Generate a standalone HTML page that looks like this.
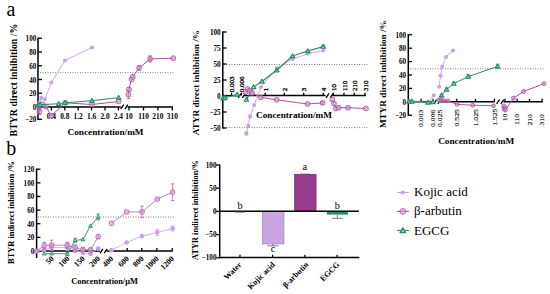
<!DOCTYPE html>
<html><head><meta charset="utf-8"><style>
html,body{margin:0;padding:0;background:#fff;overflow:hidden;}
svg{display:block;}
text{font-family:"Liberation Serif",serif;}
</style></head><body>
<svg width="550" height="294" viewBox="0 0 550 294">
<rect width="550" height="294" fill="#fff"/>
<text x="6.6" y="16.3" font-size="20" text-anchor="start" font-weight="normal" fill="#000">a</text>
<text x="6.3" y="154.5" font-size="20" text-anchor="start" font-weight="normal" fill="#000">b</text>
<line x1="38.0" y1="37.65" x2="38.0" y2="119.9" stroke="#000" stroke-width="1.5" />
<line x1="38.0" y1="38.25" x2="42.0" y2="38.25" stroke="#000" stroke-width="1.3" />
<text x="36.4" y="41.25" font-size="7.2" text-anchor="end" font-weight="bold" fill="#000">100</text>
<line x1="38.0" y1="52.0" x2="42.0" y2="52.0" stroke="#000" stroke-width="1.3" />
<text x="36.4" y="55.0" font-size="7.2" text-anchor="end" font-weight="bold" fill="#000">80</text>
<line x1="38.0" y1="65.75" x2="42.0" y2="65.75" stroke="#000" stroke-width="1.3" />
<text x="36.4" y="68.75" font-size="7.2" text-anchor="end" font-weight="bold" fill="#000">60</text>
<line x1="38.0" y1="79.5" x2="42.0" y2="79.5" stroke="#000" stroke-width="1.3" />
<text x="36.4" y="82.5" font-size="7.2" text-anchor="end" font-weight="bold" fill="#000">40</text>
<line x1="38.0" y1="93.25" x2="42.0" y2="93.25" stroke="#000" stroke-width="1.3" />
<text x="36.4" y="96.25" font-size="7.2" text-anchor="end" font-weight="bold" fill="#000">20</text>
<line x1="38.0" y1="107.0" x2="42.0" y2="107.0" stroke="#000" stroke-width="1.3" />
<text x="36.4" y="110.0" font-size="7.2" text-anchor="end" font-weight="bold" fill="#000">0</text>
<line x1="38.0" y1="119.3" x2="42.0" y2="119.3" stroke="#000" stroke-width="1.3" />
<text x="36.4" y="122.3" font-size="7.2" text-anchor="end" font-weight="bold" fill="#000">−20</text>
<line x1="38.0" y1="106.9" x2="120.8" y2="106.9" stroke="#000" stroke-width="1.5" />
<line x1="51.4" y1="106.9" x2="51.4" y2="110.5" stroke="#000" stroke-width="1.3" />
<text x="51.4" y="119.4" font-size="7.4" text-anchor="middle" font-weight="bold" fill="#000">0.4</text>
<line x1="64.8" y1="106.9" x2="64.8" y2="110.5" stroke="#000" stroke-width="1.3" />
<text x="64.8" y="119.4" font-size="7.4" text-anchor="middle" font-weight="bold" fill="#000">0.8</text>
<line x1="78.19999999999999" y1="106.9" x2="78.19999999999999" y2="110.5" stroke="#000" stroke-width="1.3" />
<text x="78.19999999999999" y="119.4" font-size="7.4" text-anchor="middle" font-weight="bold" fill="#000">1.2</text>
<line x1="91.6" y1="106.9" x2="91.6" y2="110.5" stroke="#000" stroke-width="1.3" />
<text x="91.6" y="119.4" font-size="7.4" text-anchor="middle" font-weight="bold" fill="#000">1.6</text>
<line x1="105.0" y1="106.9" x2="105.0" y2="110.5" stroke="#000" stroke-width="1.3" />
<text x="105.0" y="119.4" font-size="7.4" text-anchor="middle" font-weight="bold" fill="#000">2.0</text>
<line x1="118.39999999999999" y1="106.9" x2="118.39999999999999" y2="110.5" stroke="#000" stroke-width="1.3" />
<text x="118.39999999999999" y="119.4" font-size="7.4" text-anchor="middle" font-weight="bold" fill="#000">2.4</text>
<line x1="120.7" y1="109.10000000000001" x2="123.7" y2="104.7" stroke="#000" stroke-width="1.3"/>
<line x1="124.89999999999999" y1="109.10000000000001" x2="127.89999999999999" y2="104.7" stroke="#000" stroke-width="1.3"/>
<line x1="127.6" y1="106.9" x2="173" y2="106.9" stroke="#000" stroke-width="1.5" />
<line x1="129" y1="106.9" x2="129" y2="110.5" stroke="#000" stroke-width="1.3" />
<text x="129" y="119.4" font-size="7.4" text-anchor="middle" font-weight="bold" fill="#000">10</text>
<line x1="143.5" y1="106.9" x2="143.5" y2="110.5" stroke="#000" stroke-width="1.3" />
<text x="143.5" y="119.4" font-size="7.4" text-anchor="middle" font-weight="bold" fill="#000">110</text>
<line x1="157.9" y1="106.9" x2="157.9" y2="110.5" stroke="#000" stroke-width="1.3" />
<text x="157.9" y="119.4" font-size="7.4" text-anchor="middle" font-weight="bold" fill="#000">210</text>
<line x1="172.3" y1="106.9" x2="172.3" y2="110.5" stroke="#000" stroke-width="1.3" />
<text x="172.3" y="119.4" font-size="7.4" text-anchor="middle" font-weight="bold" fill="#000">310</text>
<line x1="40" y1="72.7" x2="174" y2="72.7" stroke="#444" stroke-width="0.8" stroke-dasharray="0.9 1.6"/>
<text x="16.6" y="80" font-size="9.85" text-anchor="middle" font-weight="bold" fill="#000" transform="rotate(-90 16.6 80)">BTYR direct inhibition /%</text>
<text x="105.6" y="135.2" font-size="9.25" text-anchor="middle" font-weight="bold" fill="#000">Concentration/mM</text>
<polyline points="38.3,105.5 39.6,102.5 41.3,97.7 44.8,99.2 51.3,82.6 64.9,60.6 92.1,47.4" fill="none" stroke="#cfa8ea" stroke-width="1.0" stroke-linejoin="round"/>
<line x1="41.3" y1="96.2" x2="41.3" y2="99.2" stroke="#c9a0e4" stroke-width="0.8" />
<line x1="39.5" y1="96.2" x2="43.099999999999994" y2="96.2" stroke="#c9a0e4" stroke-width="0.8" />
<line x1="39.5" y1="99.2" x2="43.099999999999994" y2="99.2" stroke="#c9a0e4" stroke-width="0.8" />
<circle cx="38.3" cy="105.5" r="2.0" fill="#c9a0e4"/>
<circle cx="39.6" cy="102.5" r="2.0" fill="#c9a0e4"/>
<circle cx="41.3" cy="97.7" r="2.0" fill="#c9a0e4"/>
<circle cx="44.8" cy="99.2" r="2.0" fill="#c9a0e4"/>
<circle cx="51.3" cy="82.6" r="2.0" fill="#c9a0e4"/>
<circle cx="64.9" cy="60.6" r="2.0" fill="#c9a0e4"/>
<circle cx="92.1" cy="47.4" r="2.0" fill="#c9a0e4"/>
<polyline points="38.3,106.5 39.4,111.5 42.7,104.4 46,106.5 51.3,115.7 65.2,102.8 91.9,104.5 118.6,101.5" fill="none" stroke="#a9519f" stroke-width="1.0" stroke-linejoin="round"/>
<line x1="39.4" y1="108.5" x2="39.4" y2="114.5" stroke="#a9519f" stroke-width="0.8" />
<line x1="37.6" y1="108.5" x2="41.199999999999996" y2="108.5" stroke="#a9519f" stroke-width="0.8" />
<line x1="37.6" y1="114.5" x2="41.199999999999996" y2="114.5" stroke="#a9519f" stroke-width="0.8" />
<rect x="36.099999999999994" y="104.3" width="4.4" height="4.4" rx="1.32" fill="#f0dcef" fill-opacity="0.45" stroke="#a9519f" stroke-width="0.9"/><circle cx="38.3" cy="106.5" r="1.2100000000000002" fill="none" stroke="#a9519f" stroke-width="0.5"/>
<rect x="37.199999999999996" y="109.3" width="4.4" height="4.4" rx="1.32" fill="#f0dcef" fill-opacity="0.45" stroke="#a9519f" stroke-width="0.9"/><circle cx="39.4" cy="111.5" r="1.2100000000000002" fill="none" stroke="#a9519f" stroke-width="0.5"/>
<rect x="40.5" y="102.2" width="4.4" height="4.4" rx="1.32" fill="#f0dcef" fill-opacity="0.45" stroke="#a9519f" stroke-width="0.9"/><circle cx="42.7" cy="104.4" r="1.2100000000000002" fill="none" stroke="#a9519f" stroke-width="0.5"/>
<rect x="43.8" y="104.3" width="4.4" height="4.4" rx="1.32" fill="#f0dcef" fill-opacity="0.45" stroke="#a9519f" stroke-width="0.9"/><circle cx="46" cy="106.5" r="1.2100000000000002" fill="none" stroke="#a9519f" stroke-width="0.5"/>
<rect x="49.099999999999994" y="113.5" width="4.4" height="4.4" rx="1.32" fill="#f0dcef" fill-opacity="0.45" stroke="#a9519f" stroke-width="0.9"/><circle cx="51.3" cy="115.7" r="1.2100000000000002" fill="none" stroke="#a9519f" stroke-width="0.5"/>
<rect x="63.0" y="100.6" width="4.4" height="4.4" rx="1.32" fill="#f0dcef" fill-opacity="0.45" stroke="#a9519f" stroke-width="0.9"/><circle cx="65.2" cy="102.8" r="1.2100000000000002" fill="none" stroke="#a9519f" stroke-width="0.5"/>
<rect x="89.7" y="102.3" width="4.4" height="4.4" rx="1.32" fill="#f0dcef" fill-opacity="0.45" stroke="#a9519f" stroke-width="0.9"/><circle cx="91.9" cy="104.5" r="1.2100000000000002" fill="none" stroke="#a9519f" stroke-width="0.5"/>
<rect x="116.39999999999999" y="99.3" width="4.4" height="4.4" rx="1.32" fill="#f0dcef" fill-opacity="0.45" stroke="#a9519f" stroke-width="0.9"/><circle cx="118.6" cy="101.5" r="1.2100000000000002" fill="none" stroke="#a9519f" stroke-width="0.5"/>
<polyline points="38.3,105 40,104.8 58.8,103.7 65.2,102.8 91.9,100.7 118.6,97.7" fill="none" stroke="#2c8c68" stroke-width="1.0" stroke-linejoin="round"/>
<polygon points="38.3,102.8 36.099999999999994,106.65 40.5,106.65" fill="#9fd0bd" stroke="#2c8c68" stroke-width="1.2" stroke-linejoin="round"/>
<polygon points="40,102.6 37.8,106.45 42.2,106.45" fill="#9fd0bd" stroke="#2c8c68" stroke-width="1.2" stroke-linejoin="round"/>
<polygon points="58.8,101.5 56.599999999999994,105.35000000000001 61.0,105.35000000000001" fill="#9fd0bd" stroke="#2c8c68" stroke-width="1.2" stroke-linejoin="round"/>
<polygon points="65.2,100.6 63.0,104.45 67.4,104.45" fill="#9fd0bd" stroke="#2c8c68" stroke-width="1.2" stroke-linejoin="round"/>
<polygon points="91.9,98.5 89.7,102.35000000000001 94.10000000000001,102.35000000000001" fill="#9fd0bd" stroke="#2c8c68" stroke-width="1.2" stroke-linejoin="round"/>
<polygon points="118.6,95.5 116.39999999999999,99.35000000000001 120.8,99.35000000000001" fill="#9fd0bd" stroke="#2c8c68" stroke-width="1.2" stroke-linejoin="round"/>
<polyline points="128.4,94.6 128.9,89.5 131.5,79.3 132.8,76.8 139.1,67.9 150.1,58.9 173.3,58.2" fill="none" stroke="#a9519f" stroke-width="1.0" stroke-linejoin="round"/>
<line x1="128.4" y1="90.6" x2="128.4" y2="98.6" stroke="#a9519f" stroke-width="0.8" />
<line x1="126.60000000000001" y1="90.6" x2="130.20000000000002" y2="90.6" stroke="#a9519f" stroke-width="0.8" />
<line x1="126.60000000000001" y1="98.6" x2="130.20000000000002" y2="98.6" stroke="#a9519f" stroke-width="0.8" />
<line x1="139.1" y1="65.9" x2="139.1" y2="69.9" stroke="#a9519f" stroke-width="0.8" />
<line x1="137.29999999999998" y1="65.9" x2="140.9" y2="65.9" stroke="#a9519f" stroke-width="0.8" />
<line x1="137.29999999999998" y1="69.9" x2="140.9" y2="69.9" stroke="#a9519f" stroke-width="0.8" />
<line x1="150.1" y1="55.9" x2="150.1" y2="61.9" stroke="#a9519f" stroke-width="0.8" />
<line x1="148.29999999999998" y1="55.9" x2="151.9" y2="55.9" stroke="#a9519f" stroke-width="0.8" />
<line x1="148.29999999999998" y1="61.9" x2="151.9" y2="61.9" stroke="#a9519f" stroke-width="0.8" />
<rect x="126.2" y="92.39999999999999" width="4.4" height="4.4" rx="1.32" fill="#f0dcef" fill-opacity="0.45" stroke="#a9519f" stroke-width="0.9"/><circle cx="128.4" cy="94.6" r="1.2100000000000002" fill="none" stroke="#a9519f" stroke-width="0.5"/>
<rect x="126.7" y="87.3" width="4.4" height="4.4" rx="1.32" fill="#f0dcef" fill-opacity="0.45" stroke="#a9519f" stroke-width="0.9"/><circle cx="128.9" cy="89.5" r="1.2100000000000002" fill="none" stroke="#a9519f" stroke-width="0.5"/>
<rect x="129.3" y="77.1" width="4.4" height="4.4" rx="1.32" fill="#f0dcef" fill-opacity="0.45" stroke="#a9519f" stroke-width="0.9"/><circle cx="131.5" cy="79.3" r="1.2100000000000002" fill="none" stroke="#a9519f" stroke-width="0.5"/>
<rect x="130.60000000000002" y="74.6" width="4.4" height="4.4" rx="1.32" fill="#f0dcef" fill-opacity="0.45" stroke="#a9519f" stroke-width="0.9"/><circle cx="132.8" cy="76.8" r="1.2100000000000002" fill="none" stroke="#a9519f" stroke-width="0.5"/>
<rect x="136.9" y="65.7" width="4.4" height="4.4" rx="1.32" fill="#f0dcef" fill-opacity="0.45" stroke="#a9519f" stroke-width="0.9"/><circle cx="139.1" cy="67.9" r="1.2100000000000002" fill="none" stroke="#a9519f" stroke-width="0.5"/>
<rect x="147.9" y="56.699999999999996" width="4.4" height="4.4" rx="1.32" fill="#f0dcef" fill-opacity="0.45" stroke="#a9519f" stroke-width="0.9"/><circle cx="150.1" cy="58.9" r="1.2100000000000002" fill="none" stroke="#a9519f" stroke-width="0.5"/>
<rect x="171.10000000000002" y="56.0" width="4.4" height="4.4" rx="1.32" fill="#f0dcef" fill-opacity="0.45" stroke="#a9519f" stroke-width="0.9"/><circle cx="173.3" cy="58.2" r="1.2100000000000002" fill="none" stroke="#a9519f" stroke-width="0.5"/>
<line x1="222.8" y1="31.4" x2="222.8" y2="128.6" stroke="#000" stroke-width="1.5" />
<line x1="222.8" y1="32.0" x2="226.60000000000002" y2="32.0" stroke="#000" stroke-width="1.3" />
<text x="220.7" y="34.8" font-size="7.2" text-anchor="end" font-weight="bold" fill="#000">100</text>
<line x1="222.8" y1="48.0" x2="226.60000000000002" y2="48.0" stroke="#000" stroke-width="1.3" />
<text x="220.7" y="50.8" font-size="7.2" text-anchor="end" font-weight="bold" fill="#000">75</text>
<line x1="222.8" y1="64.0" x2="226.60000000000002" y2="64.0" stroke="#000" stroke-width="1.3" />
<text x="220.7" y="66.8" font-size="7.2" text-anchor="end" font-weight="bold" fill="#000">50</text>
<line x1="222.8" y1="80.0" x2="226.60000000000002" y2="80.0" stroke="#000" stroke-width="1.3" />
<text x="220.7" y="82.8" font-size="7.2" text-anchor="end" font-weight="bold" fill="#000">25</text>
<line x1="222.8" y1="96.0" x2="226.60000000000002" y2="96.0" stroke="#000" stroke-width="1.3" />
<text x="220.7" y="98.8" font-size="7.2" text-anchor="end" font-weight="bold" fill="#000">0</text>
<line x1="222.8" y1="112.0" x2="226.60000000000002" y2="112.0" stroke="#000" stroke-width="1.3" />
<text x="220.7" y="114.8" font-size="7.2" text-anchor="end" font-weight="bold" fill="#000">−25</text>
<line x1="222.8" y1="128.0" x2="226.60000000000002" y2="128.0" stroke="#000" stroke-width="1.3" />
<text x="220.7" y="130.8" font-size="7.2" text-anchor="end" font-weight="bold" fill="#000">−50</text>
<line x1="222.8" y1="95.6" x2="238.6" y2="95.6" stroke="#000" stroke-width="1.5" />
<line x1="238.20000000000002" y1="97.8" x2="241.20000000000002" y2="93.39999999999999" stroke="#000" stroke-width="1.3"/>
<line x1="242.4" y1="97.8" x2="245.4" y2="93.39999999999999" stroke="#000" stroke-width="1.3"/>
<line x1="244.2" y1="95.6" x2="325.5" y2="95.6" stroke="#000" stroke-width="1.5" />
<line x1="326.0" y1="97.8" x2="329.0" y2="93.39999999999999" stroke="#000" stroke-width="1.3"/>
<line x1="330.20000000000005" y1="97.8" x2="333.20000000000005" y2="93.39999999999999" stroke="#000" stroke-width="1.3"/>
<line x1="332.2" y1="95.6" x2="366" y2="95.6" stroke="#000" stroke-width="1.5" />
<line x1="231.6" y1="95.6" x2="231.6" y2="92.8" stroke="#000" stroke-width="1.1" />
<text x="234.1" y="92.2" font-size="7.0" text-anchor="start" font-weight="normal" fill="#000" transform="rotate(-90 234.1 92.2)" stroke="#000" stroke-width="0.3">0.003</text>
<line x1="241.5" y1="95.6" x2="241.5" y2="92.8" stroke="#000" stroke-width="1.1" />
<text x="244.0" y="92.2" font-size="7.0" text-anchor="start" font-weight="normal" fill="#000" transform="rotate(-90 244.0 92.2)" stroke="#000" stroke-width="0.3">0.006</text>
<line x1="265.2" y1="95.6" x2="265.2" y2="92.8" stroke="#000" stroke-width="1.3" />
<text x="267.7" y="91.2" font-size="7.0" text-anchor="start" font-weight="normal" fill="#000" transform="rotate(-90 267.7 91.2)" stroke="#000" stroke-width="0.3">1</text>
<line x1="284.3" y1="95.6" x2="284.3" y2="92.8" stroke="#000" stroke-width="1.3" />
<text x="286.8" y="91.2" font-size="7.0" text-anchor="start" font-weight="normal" fill="#000" transform="rotate(-90 286.8 91.2)" stroke="#000" stroke-width="0.3">2</text>
<line x1="303.7" y1="95.6" x2="303.7" y2="92.8" stroke="#000" stroke-width="1.3" />
<text x="306.2" y="91.2" font-size="7.0" text-anchor="start" font-weight="normal" fill="#000" transform="rotate(-90 306.2 91.2)" stroke="#000" stroke-width="0.3">3</text>
<line x1="323.2" y1="95.6" x2="323.2" y2="92.8" stroke="#000" stroke-width="1.3" />
<text x="325.7" y="91.2" font-size="7.0" text-anchor="start" font-weight="normal" fill="#000" transform="rotate(-90 325.7 91.2)" stroke="#000" stroke-width="0.3">4</text>
<line x1="333.3" y1="95.6" x2="333.3" y2="92.8" stroke="#000" stroke-width="1.3" />
<text x="336.3" y="91.0" font-size="6.9" text-anchor="start" font-weight="normal" fill="#000" transform="rotate(-90 336.3 91.0)" stroke="#000" stroke-width="0.3">10</text>
<line x1="344" y1="95.6" x2="344" y2="92.8" stroke="#000" stroke-width="1.3" />
<text x="347.0" y="91.0" font-size="6.9" text-anchor="start" font-weight="normal" fill="#000" transform="rotate(-90 347.0 91.0)" stroke="#000" stroke-width="0.3">110</text>
<line x1="354.2" y1="95.6" x2="354.2" y2="92.8" stroke="#000" stroke-width="1.3" />
<text x="357.2" y="91.0" font-size="6.9" text-anchor="start" font-weight="normal" fill="#000" transform="rotate(-90 357.2 91.0)" stroke="#000" stroke-width="0.3">210</text>
<line x1="364.9" y1="95.6" x2="364.9" y2="92.8" stroke="#000" stroke-width="1.3" />
<text x="367.9" y="91.0" font-size="6.9" text-anchor="start" font-weight="normal" fill="#000" transform="rotate(-90 367.9 91.0)" stroke="#000" stroke-width="0.3">310</text>
<line x1="224" y1="64.5" x2="368" y2="64.5" stroke="#444" stroke-width="0.8" stroke-dasharray="0.9 1.6"/>
<line x1="224" y1="127.6" x2="368" y2="127.6" stroke="#444" stroke-width="0.8" stroke-dasharray="0.9 1.6"/>
<text x="199.5" y="82.6" font-size="9.2" text-anchor="middle" font-weight="bold" fill="#000" transform="rotate(-90 199.5 82.6)">ATYR direct inhibition /%</text>
<text x="294" y="118.4" font-size="9.25" text-anchor="middle" font-weight="bold" fill="#000">Concentration/mM</text>
<polyline points="223,98.2 225,97.8 237.2,94.6" fill="none" stroke="#2c8c68" stroke-width="1.0" stroke-linejoin="round"/>
<polygon points="223,96.0 220.8,99.85000000000001 225.2,99.85000000000001" fill="#9fd0bd" stroke="#2c8c68" stroke-width="1.2" stroke-linejoin="round"/>
<polygon points="225,95.6 222.8,99.45 227.2,99.45" fill="#9fd0bd" stroke="#2c8c68" stroke-width="1.2" stroke-linejoin="round"/>
<polygon points="237.2,92.39999999999999 235.0,96.25 239.39999999999998,96.25" fill="#9fd0bd" stroke="#2c8c68" stroke-width="1.2" stroke-linejoin="round"/>
<polyline points="246.4,133.4 248.3,126 250,116.4 254.2,105 261,87 276.7,68.3 292.5,59.1 307.8,53.6 323.3,50.6" fill="none" stroke="#cfa8ea" stroke-width="1.0" stroke-linejoin="round"/>
<line x1="246.4" y1="131.9" x2="246.4" y2="134.9" stroke="#c9a0e4" stroke-width="0.8" />
<line x1="244.6" y1="131.9" x2="248.20000000000002" y2="131.9" stroke="#c9a0e4" stroke-width="0.8" />
<line x1="244.6" y1="134.9" x2="248.20000000000002" y2="134.9" stroke="#c9a0e4" stroke-width="0.8" />
<line x1="248.3" y1="124.5" x2="248.3" y2="127.5" stroke="#c9a0e4" stroke-width="0.8" />
<line x1="246.5" y1="124.5" x2="250.10000000000002" y2="124.5" stroke="#c9a0e4" stroke-width="0.8" />
<line x1="246.5" y1="127.5" x2="250.10000000000002" y2="127.5" stroke="#c9a0e4" stroke-width="0.8" />
<line x1="250" y1="114.9" x2="250" y2="117.9" stroke="#c9a0e4" stroke-width="0.8" />
<line x1="248.2" y1="114.9" x2="251.8" y2="114.9" stroke="#c9a0e4" stroke-width="0.8" />
<line x1="248.2" y1="117.9" x2="251.8" y2="117.9" stroke="#c9a0e4" stroke-width="0.8" />
<circle cx="246.4" cy="133.4" r="2.0" fill="#c9a0e4"/>
<circle cx="248.3" cy="126" r="2.0" fill="#c9a0e4"/>
<circle cx="250" cy="116.4" r="2.0" fill="#c9a0e4"/>
<circle cx="254.2" cy="105" r="2.0" fill="#c9a0e4"/>
<circle cx="261" cy="87" r="2.0" fill="#c9a0e4"/>
<circle cx="276.7" cy="68.3" r="2.0" fill="#c9a0e4"/>
<circle cx="292.5" cy="59.1" r="2.0" fill="#c9a0e4"/>
<circle cx="307.8" cy="53.6" r="2.0" fill="#c9a0e4"/>
<circle cx="323.3" cy="50.6" r="2.0" fill="#c9a0e4"/>
<polyline points="246.4,99.6 253.6,86.9 261.9,81.4 276.7,70.2 292.5,56.0 307.8,51.0 323.3,46.6" fill="none" stroke="#2c8c68" stroke-width="1.2" stroke-linejoin="round"/>
<line x1="323.3" y1="45.1" x2="323.3" y2="48.1" stroke="#2c8c68" stroke-width="0.8" />
<line x1="321.5" y1="45.1" x2="325.1" y2="45.1" stroke="#2c8c68" stroke-width="0.8" />
<line x1="321.5" y1="48.1" x2="325.1" y2="48.1" stroke="#2c8c68" stroke-width="0.8" />
<polygon points="246.4,97.39999999999999 244.20000000000002,101.25 248.6,101.25" fill="#9fd0bd" stroke="#2c8c68" stroke-width="1.2" stroke-linejoin="round"/>
<polygon points="253.6,84.7 251.4,88.55000000000001 255.79999999999998,88.55000000000001" fill="#9fd0bd" stroke="#2c8c68" stroke-width="1.2" stroke-linejoin="round"/>
<polygon points="261.9,79.2 259.7,83.05000000000001 264.09999999999997,83.05000000000001" fill="#9fd0bd" stroke="#2c8c68" stroke-width="1.2" stroke-linejoin="round"/>
<polygon points="276.7,68.0 274.5,71.85000000000001 278.9,71.85000000000001" fill="#9fd0bd" stroke="#2c8c68" stroke-width="1.2" stroke-linejoin="round"/>
<polygon points="292.5,53.8 290.3,57.65 294.7,57.65" fill="#9fd0bd" stroke="#2c8c68" stroke-width="1.2" stroke-linejoin="round"/>
<polygon points="307.8,48.8 305.6,52.65 310.0,52.65" fill="#9fd0bd" stroke="#2c8c68" stroke-width="1.2" stroke-linejoin="round"/>
<polygon points="323.3,44.4 321.1,48.25 325.5,48.25" fill="#9fd0bd" stroke="#2c8c68" stroke-width="1.2" stroke-linejoin="round"/>
<polyline points="245.5,92 247.5,89 250,90.5 252,93 260.7,97.4 276.7,99.8 307.6,104 322.6,102.9" fill="none" stroke="#a9519f" stroke-width="1.0" stroke-linejoin="round"/>
<line x1="322.6" y1="101.4" x2="322.6" y2="104.4" stroke="#a9519f" stroke-width="0.8" />
<line x1="320.8" y1="101.4" x2="324.40000000000003" y2="101.4" stroke="#a9519f" stroke-width="0.8" />
<line x1="320.8" y1="104.4" x2="324.40000000000003" y2="104.4" stroke="#a9519f" stroke-width="0.8" />
<rect x="243.3" y="89.8" width="4.4" height="4.4" rx="1.32" fill="#f0dcef" fill-opacity="0.45" stroke="#a9519f" stroke-width="0.9"/><circle cx="245.5" cy="92" r="1.2100000000000002" fill="none" stroke="#a9519f" stroke-width="0.5"/>
<rect x="245.3" y="86.8" width="4.4" height="4.4" rx="1.32" fill="#f0dcef" fill-opacity="0.45" stroke="#a9519f" stroke-width="0.9"/><circle cx="247.5" cy="89" r="1.2100000000000002" fill="none" stroke="#a9519f" stroke-width="0.5"/>
<rect x="247.8" y="88.3" width="4.4" height="4.4" rx="1.32" fill="#f0dcef" fill-opacity="0.45" stroke="#a9519f" stroke-width="0.9"/><circle cx="250" cy="90.5" r="1.2100000000000002" fill="none" stroke="#a9519f" stroke-width="0.5"/>
<rect x="249.8" y="90.8" width="4.4" height="4.4" rx="1.32" fill="#f0dcef" fill-opacity="0.45" stroke="#a9519f" stroke-width="0.9"/><circle cx="252" cy="93" r="1.2100000000000002" fill="none" stroke="#a9519f" stroke-width="0.5"/>
<rect x="258.5" y="95.2" width="4.4" height="4.4" rx="1.32" fill="#f0dcef" fill-opacity="0.45" stroke="#a9519f" stroke-width="0.9"/><circle cx="260.7" cy="97.4" r="1.2100000000000002" fill="none" stroke="#a9519f" stroke-width="0.5"/>
<rect x="274.5" y="97.6" width="4.4" height="4.4" rx="1.32" fill="#f0dcef" fill-opacity="0.45" stroke="#a9519f" stroke-width="0.9"/><circle cx="276.7" cy="99.8" r="1.2100000000000002" fill="none" stroke="#a9519f" stroke-width="0.5"/>
<rect x="305.40000000000003" y="101.8" width="4.4" height="4.4" rx="1.32" fill="#f0dcef" fill-opacity="0.45" stroke="#a9519f" stroke-width="0.9"/><circle cx="307.6" cy="104" r="1.2100000000000002" fill="none" stroke="#a9519f" stroke-width="0.5"/>
<rect x="320.40000000000003" y="100.7" width="4.4" height="4.4" rx="1.32" fill="#f0dcef" fill-opacity="0.45" stroke="#a9519f" stroke-width="0.9"/><circle cx="322.6" cy="102.9" r="1.2100000000000002" fill="none" stroke="#a9519f" stroke-width="0.5"/>
<polyline points="332.3,99.5 334,103.6 335.9,108.5 338.6,107.7 348,107.7 365.9,108.5" fill="none" stroke="#a9519f" stroke-width="1.0" stroke-linejoin="round"/>
<rect x="330.1" y="97.3" width="4.4" height="4.4" rx="1.32" fill="#f0dcef" fill-opacity="0.45" stroke="#a9519f" stroke-width="0.9"/><circle cx="332.3" cy="99.5" r="1.2100000000000002" fill="none" stroke="#a9519f" stroke-width="0.5"/>
<rect x="331.8" y="101.39999999999999" width="4.4" height="4.4" rx="1.32" fill="#f0dcef" fill-opacity="0.45" stroke="#a9519f" stroke-width="0.9"/><circle cx="334" cy="103.6" r="1.2100000000000002" fill="none" stroke="#a9519f" stroke-width="0.5"/>
<rect x="333.7" y="106.3" width="4.4" height="4.4" rx="1.32" fill="#f0dcef" fill-opacity="0.45" stroke="#a9519f" stroke-width="0.9"/><circle cx="335.9" cy="108.5" r="1.2100000000000002" fill="none" stroke="#a9519f" stroke-width="0.5"/>
<rect x="336.40000000000003" y="105.5" width="4.4" height="4.4" rx="1.32" fill="#f0dcef" fill-opacity="0.45" stroke="#a9519f" stroke-width="0.9"/><circle cx="338.6" cy="107.7" r="1.2100000000000002" fill="none" stroke="#a9519f" stroke-width="0.5"/>
<rect x="345.8" y="105.5" width="4.4" height="4.4" rx="1.32" fill="#f0dcef" fill-opacity="0.45" stroke="#a9519f" stroke-width="0.9"/><circle cx="348" cy="107.7" r="1.2100000000000002" fill="none" stroke="#a9519f" stroke-width="0.5"/>
<rect x="363.7" y="106.3" width="4.4" height="4.4" rx="1.32" fill="#f0dcef" fill-opacity="0.45" stroke="#a9519f" stroke-width="0.9"/><circle cx="365.9" cy="108.5" r="1.2100000000000002" fill="none" stroke="#a9519f" stroke-width="0.5"/>
<line x1="408.3" y1="34.199999999999996" x2="408.3" y2="115.8" stroke="#000" stroke-width="1.5" />
<line x1="408.3" y1="115.2" x2="412.1" y2="115.2" stroke="#000" stroke-width="1.3" />
<text x="406.2" y="118.0" font-size="7.2" text-anchor="end" font-weight="bold" fill="#000">−20</text>
<line x1="408.3" y1="101.8" x2="412.1" y2="101.8" stroke="#000" stroke-width="1.3" />
<text x="406.2" y="104.6" font-size="7.2" text-anchor="end" font-weight="bold" fill="#000">0</text>
<line x1="408.3" y1="88.39999999999999" x2="412.1" y2="88.39999999999999" stroke="#000" stroke-width="1.3" />
<text x="406.2" y="91.19999999999999" font-size="7.2" text-anchor="end" font-weight="bold" fill="#000">20</text>
<line x1="408.3" y1="75.0" x2="412.1" y2="75.0" stroke="#000" stroke-width="1.3" />
<text x="406.2" y="77.8" font-size="7.2" text-anchor="end" font-weight="bold" fill="#000">40</text>
<line x1="408.3" y1="61.599999999999994" x2="412.1" y2="61.599999999999994" stroke="#000" stroke-width="1.3" />
<text x="406.2" y="64.39999999999999" font-size="7.2" text-anchor="end" font-weight="bold" fill="#000">60</text>
<line x1="408.3" y1="48.199999999999996" x2="412.1" y2="48.199999999999996" stroke="#000" stroke-width="1.3" />
<text x="406.2" y="50.99999999999999" font-size="7.2" text-anchor="end" font-weight="bold" fill="#000">80</text>
<line x1="408.3" y1="34.8" x2="412.1" y2="34.8" stroke="#000" stroke-width="1.3" />
<text x="406.2" y="37.599999999999994" font-size="7.2" text-anchor="end" font-weight="bold" fill="#000">100</text>
<line x1="408.3" y1="101.7" x2="434" y2="101.7" stroke="#000" stroke-width="1.5" />
<line x1="433.7" y1="103.9" x2="436.7" y2="99.5" stroke="#000" stroke-width="1.3"/>
<line x1="437.90000000000003" y1="103.9" x2="440.90000000000003" y2="99.5" stroke="#000" stroke-width="1.3"/>
<line x1="439.6" y1="101.7" x2="494.6" y2="101.7" stroke="#000" stroke-width="1.5" />
<line x1="496.59999999999997" y1="103.9" x2="499.59999999999997" y2="99.5" stroke="#000" stroke-width="1.3"/>
<line x1="500.8" y1="103.9" x2="503.8" y2="99.5" stroke="#000" stroke-width="1.3"/>
<line x1="503.5" y1="101.7" x2="543" y2="101.7" stroke="#000" stroke-width="1.5" />
<line x1="421.1" y1="101.7" x2="421.1" y2="98.8" stroke="#000" stroke-width="1.3" />
<text x="0" y="0" font-size="7.7" text-anchor="middle" font-weight="normal" fill="#000" transform="translate(423.20000000000005 118.3) rotate(-90) scale(1 0.85)" stroke="#000" stroke-width="0.12">0.003</text>
<line x1="433.1" y1="101.7" x2="433.1" y2="98.8" stroke="#000" stroke-width="1.3" />
<text x="0" y="0" font-size="7.7" text-anchor="middle" font-weight="normal" fill="#000" transform="translate(435.20000000000005 118.3) rotate(-90) scale(1 0.85)" stroke="#000" stroke-width="0.12">0.006</text>
<line x1="439.8" y1="101.7" x2="439.8" y2="98.8" stroke="#000" stroke-width="1.3" />
<text x="0" y="0" font-size="7.7" text-anchor="middle" font-weight="normal" fill="#000" transform="translate(441.90000000000003 118.3) rotate(-90) scale(1 0.85)" stroke="#000" stroke-width="0.12">0.025</text>
<line x1="456.7" y1="101.7" x2="456.7" y2="98.8" stroke="#000" stroke-width="1.3" />
<text x="0" y="0" font-size="7.7" text-anchor="middle" font-weight="normal" fill="#000" transform="translate(458.8 117.8) rotate(-90) scale(1 0.85)" stroke="#000" stroke-width="0.12">0.525</text>
<line x1="475.5" y1="101.7" x2="475.5" y2="98.8" stroke="#000" stroke-width="1.3" />
<text x="0" y="0" font-size="7.7" text-anchor="middle" font-weight="normal" fill="#000" transform="translate(477.6 117.8) rotate(-90) scale(1 0.85)" stroke="#000" stroke-width="0.12">1.025</text>
<line x1="494.4" y1="101.7" x2="494.4" y2="98.8" stroke="#000" stroke-width="1.3" />
<text x="0" y="0" font-size="7.7" text-anchor="middle" font-weight="normal" fill="#000" transform="translate(496.5 117.2) rotate(-90) scale(1 0.85)" stroke="#000" stroke-width="0.12">1.525</text>
<line x1="505" y1="101.7" x2="505" y2="98.8" stroke="#000" stroke-width="1.3" />
<text x="0" y="0" font-size="7.7" text-anchor="middle" font-weight="normal" fill="#000" transform="translate(507.1 117.5) rotate(-90) scale(1 0.85)" stroke="#000" stroke-width="0.12">10</text>
<line x1="517.2" y1="101.7" x2="517.2" y2="98.8" stroke="#000" stroke-width="1.3" />
<text x="0" y="0" font-size="7.7" text-anchor="middle" font-weight="normal" fill="#000" transform="translate(519.3000000000001 119.5) rotate(-90) scale(1 0.85)" stroke="#000" stroke-width="0.12">110</text>
<line x1="529.5" y1="101.7" x2="529.5" y2="98.8" stroke="#000" stroke-width="1.3" />
<text x="0" y="0" font-size="7.7" text-anchor="middle" font-weight="normal" fill="#000" transform="translate(531.6 119.8) rotate(-90) scale(1 0.85)" stroke="#000" stroke-width="0.12">210</text>
<line x1="542" y1="101.7" x2="542" y2="98.8" stroke="#000" stroke-width="1.3" />
<text x="0" y="0" font-size="7.7" text-anchor="middle" font-weight="normal" fill="#000" transform="translate(544.1 119.8) rotate(-90) scale(1 0.85)" stroke="#000" stroke-width="0.12">310</text>
<line x1="410" y1="68.8" x2="545" y2="68.8" stroke="#444" stroke-width="0.8" stroke-dasharray="0.9 1.6"/>
<text x="385.9" y="74.2" font-size="9.2" text-anchor="middle" font-weight="bold" fill="#000" transform="rotate(-90 385.9 74.2)">MTYR direct inhibition /%</text>
<text x="476.2" y="144.2" font-size="9.25" text-anchor="middle" font-weight="bold" fill="#000">Concentration/mM</text>
<polyline points="409,100.8 412.2,101.3 428.6,102.3 433.7,95.2" fill="none" stroke="#cfa8ea" stroke-width="1.0" stroke-linejoin="round"/>
<circle cx="409" cy="100.8" r="2.0" fill="#c9a0e4"/>
<circle cx="412.2" cy="101.3" r="2.0" fill="#c9a0e4"/>
<circle cx="428.6" cy="102.3" r="2.0" fill="#c9a0e4"/>
<circle cx="433.7" cy="95.2" r="2.0" fill="#c9a0e4"/>
<polyline points="409,101.5 412,101.5 428,102.5 433,102" fill="none" stroke="#2c8c68" stroke-width="1.0" stroke-linejoin="round"/>
<polygon points="409,99.3 406.8,103.15 411.2,103.15" fill="#9fd0bd" stroke="#2c8c68" stroke-width="1.2" stroke-linejoin="round"/>
<polygon points="412,99.3 409.8,103.15 414.2,103.15" fill="#9fd0bd" stroke="#2c8c68" stroke-width="1.2" stroke-linejoin="round"/>
<polygon points="428,100.3 425.8,104.15 430.2,104.15" fill="#9fd0bd" stroke="#2c8c68" stroke-width="1.2" stroke-linejoin="round"/>
<polygon points="433,99.8 430.8,103.65 435.2,103.65" fill="#9fd0bd" stroke="#2c8c68" stroke-width="1.2" stroke-linejoin="round"/>
<polyline points="439.2,86.8 440.5,75.7 442.2,66.5 446,56.9 453.1,50.5" fill="none" stroke="#cfa8ea" stroke-width="1.0" stroke-linejoin="round"/>
<circle cx="439.2" cy="86.8" r="2.0" fill="#c9a0e4"/>
<circle cx="440.5" cy="75.7" r="2.0" fill="#c9a0e4"/>
<circle cx="442.2" cy="66.5" r="2.0" fill="#c9a0e4"/>
<circle cx="446" cy="56.9" r="2.0" fill="#c9a0e4"/>
<circle cx="453.1" cy="50.5" r="2.0" fill="#c9a0e4"/>
<polyline points="440.6,100.4 441.6,95.2 446.6,89.4 453.8,83.6 468.2,76.6 497.7,66.3" fill="none" stroke="#2c8c68" stroke-width="1.0" stroke-linejoin="round"/>
<line x1="446.6" y1="87.9" x2="446.6" y2="90.9" stroke="#2c8c68" stroke-width="0.8" />
<line x1="444.8" y1="87.9" x2="448.40000000000003" y2="87.9" stroke="#2c8c68" stroke-width="0.8" />
<line x1="444.8" y1="90.9" x2="448.40000000000003" y2="90.9" stroke="#2c8c68" stroke-width="0.8" />
<line x1="453.8" y1="82.1" x2="453.8" y2="85.1" stroke="#2c8c68" stroke-width="0.8" />
<line x1="452.0" y1="82.1" x2="455.6" y2="82.1" stroke="#2c8c68" stroke-width="0.8" />
<line x1="452.0" y1="85.1" x2="455.6" y2="85.1" stroke="#2c8c68" stroke-width="0.8" />
<line x1="468.2" y1="74.6" x2="468.2" y2="78.6" stroke="#2c8c68" stroke-width="0.8" />
<line x1="466.4" y1="74.6" x2="470.0" y2="74.6" stroke="#2c8c68" stroke-width="0.8" />
<line x1="466.4" y1="78.6" x2="470.0" y2="78.6" stroke="#2c8c68" stroke-width="0.8" />
<line x1="497.7" y1="64.3" x2="497.7" y2="68.3" stroke="#2c8c68" stroke-width="0.8" />
<line x1="495.9" y1="64.3" x2="499.5" y2="64.3" stroke="#2c8c68" stroke-width="0.8" />
<line x1="495.9" y1="68.3" x2="499.5" y2="68.3" stroke="#2c8c68" stroke-width="0.8" />
<polygon points="440.6,98.2 438.40000000000003,102.05000000000001 442.8,102.05000000000001" fill="#9fd0bd" stroke="#2c8c68" stroke-width="1.2" stroke-linejoin="round"/>
<polygon points="441.6,93.0 439.40000000000003,96.85000000000001 443.8,96.85000000000001" fill="#9fd0bd" stroke="#2c8c68" stroke-width="1.2" stroke-linejoin="round"/>
<polygon points="446.6,87.2 444.40000000000003,91.05000000000001 448.8,91.05000000000001" fill="#9fd0bd" stroke="#2c8c68" stroke-width="1.2" stroke-linejoin="round"/>
<polygon points="453.8,81.39999999999999 451.6,85.25 456.0,85.25" fill="#9fd0bd" stroke="#2c8c68" stroke-width="1.2" stroke-linejoin="round"/>
<polygon points="468.2,74.39999999999999 466.0,78.25 470.4,78.25" fill="#9fd0bd" stroke="#2c8c68" stroke-width="1.2" stroke-linejoin="round"/>
<polygon points="497.7,64.1 495.5,67.95 499.9,67.95" fill="#9fd0bd" stroke="#2c8c68" stroke-width="1.2" stroke-linejoin="round"/>
<polyline points="439,100 441,99 444,100.5 448,100.8 457,104.4 472.8,105.2 493.6,105.8" fill="none" stroke="#a9519f" stroke-width="1.0" stroke-linejoin="round"/>
<rect x="437.3" y="98.3" width="3.4" height="3.4" rx="1.02" fill="#f0dcef" fill-opacity="0.45" stroke="#a9519f" stroke-width="0.9"/><circle cx="439" cy="100" r="0.935" fill="none" stroke="#a9519f" stroke-width="0.5"/>
<rect x="439.3" y="97.3" width="3.4" height="3.4" rx="1.02" fill="#f0dcef" fill-opacity="0.45" stroke="#a9519f" stroke-width="0.9"/><circle cx="441" cy="99" r="0.935" fill="none" stroke="#a9519f" stroke-width="0.5"/>
<rect x="442.3" y="98.8" width="3.4" height="3.4" rx="1.02" fill="#f0dcef" fill-opacity="0.45" stroke="#a9519f" stroke-width="0.9"/><circle cx="444" cy="100.5" r="0.935" fill="none" stroke="#a9519f" stroke-width="0.5"/>
<rect x="446.3" y="99.1" width="3.4" height="3.4" rx="1.02" fill="#f0dcef" fill-opacity="0.45" stroke="#a9519f" stroke-width="0.9"/><circle cx="448" cy="100.8" r="0.935" fill="none" stroke="#a9519f" stroke-width="0.5"/>
<rect x="455.3" y="102.7" width="3.4" height="3.4" rx="1.02" fill="#f0dcef" fill-opacity="0.45" stroke="#a9519f" stroke-width="0.9"/><circle cx="457" cy="104.4" r="0.935" fill="none" stroke="#a9519f" stroke-width="0.5"/>
<rect x="471.1" y="103.5" width="3.4" height="3.4" rx="1.02" fill="#f0dcef" fill-opacity="0.45" stroke="#a9519f" stroke-width="0.9"/><circle cx="472.8" cy="105.2" r="0.935" fill="none" stroke="#a9519f" stroke-width="0.5"/>
<rect x="491.90000000000003" y="104.1" width="3.4" height="3.4" rx="1.02" fill="#f0dcef" fill-opacity="0.45" stroke="#a9519f" stroke-width="0.9"/><circle cx="493.6" cy="105.8" r="0.935" fill="none" stroke="#a9519f" stroke-width="0.5"/>
<polyline points="503.5,106 504.3,108.8 505,107.5 505.5,110 513.5,98.1 523.6,91.4 544,83.7" fill="none" stroke="#a9519f" stroke-width="1.0" stroke-linejoin="round"/>
<line x1="504.3" y1="106.8" x2="504.3" y2="110.8" stroke="#a9519f" stroke-width="0.8" />
<line x1="502.5" y1="106.8" x2="506.1" y2="106.8" stroke="#a9519f" stroke-width="0.8" />
<line x1="502.5" y1="110.8" x2="506.1" y2="110.8" stroke="#a9519f" stroke-width="0.8" />
<rect x="501.7" y="104.2" width="3.6" height="3.6" rx="1.08" fill="#f0dcef" fill-opacity="0.45" stroke="#a9519f" stroke-width="0.9"/><circle cx="503.5" cy="106" r="0.9900000000000001" fill="none" stroke="#a9519f" stroke-width="0.5"/>
<rect x="502.5" y="107.0" width="3.6" height="3.6" rx="1.08" fill="#f0dcef" fill-opacity="0.45" stroke="#a9519f" stroke-width="0.9"/><circle cx="504.3" cy="108.8" r="0.9900000000000001" fill="none" stroke="#a9519f" stroke-width="0.5"/>
<rect x="503.2" y="105.7" width="3.6" height="3.6" rx="1.08" fill="#f0dcef" fill-opacity="0.45" stroke="#a9519f" stroke-width="0.9"/><circle cx="505" cy="107.5" r="0.9900000000000001" fill="none" stroke="#a9519f" stroke-width="0.5"/>
<rect x="503.7" y="108.2" width="3.6" height="3.6" rx="1.08" fill="#f0dcef" fill-opacity="0.45" stroke="#a9519f" stroke-width="0.9"/><circle cx="505.5" cy="110" r="0.9900000000000001" fill="none" stroke="#a9519f" stroke-width="0.5"/>
<rect x="511.7" y="96.3" width="3.6" height="3.6" rx="1.08" fill="#f0dcef" fill-opacity="0.45" stroke="#a9519f" stroke-width="0.9"/><circle cx="513.5" cy="98.1" r="0.9900000000000001" fill="none" stroke="#a9519f" stroke-width="0.5"/>
<rect x="521.8000000000001" y="89.60000000000001" width="3.6" height="3.6" rx="1.08" fill="#f0dcef" fill-opacity="0.45" stroke="#a9519f" stroke-width="0.9"/><circle cx="523.6" cy="91.4" r="0.9900000000000001" fill="none" stroke="#a9519f" stroke-width="0.5"/>
<rect x="542.2" y="81.9" width="3.6" height="3.6" rx="1.08" fill="#f0dcef" fill-opacity="0.45" stroke="#a9519f" stroke-width="0.9"/><circle cx="544" cy="83.7" r="0.9900000000000001" fill="none" stroke="#a9519f" stroke-width="0.5"/>
<line x1="36.6" y1="168.596" x2="36.6" y2="258" stroke="#000" stroke-width="1.5" />
<line x1="36.6" y1="251.0" x2="40.4" y2="251.0" stroke="#000" stroke-width="1.3" />
<text x="34.4" y="253.8" font-size="7.2" text-anchor="end" font-weight="bold" fill="#000">0</text>
<line x1="36.6" y1="237.36599999999999" x2="40.4" y2="237.36599999999999" stroke="#000" stroke-width="1.3" />
<text x="34.4" y="240.166" font-size="7.2" text-anchor="end" font-weight="bold" fill="#000">20</text>
<line x1="36.6" y1="223.732" x2="40.4" y2="223.732" stroke="#000" stroke-width="1.3" />
<text x="34.4" y="226.532" font-size="7.2" text-anchor="end" font-weight="bold" fill="#000">40</text>
<line x1="36.6" y1="210.098" x2="40.4" y2="210.098" stroke="#000" stroke-width="1.3" />
<text x="34.4" y="212.89800000000002" font-size="7.2" text-anchor="end" font-weight="bold" fill="#000">60</text>
<line x1="36.6" y1="196.464" x2="40.4" y2="196.464" stroke="#000" stroke-width="1.3" />
<text x="34.4" y="199.264" font-size="7.2" text-anchor="end" font-weight="bold" fill="#000">80</text>
<line x1="36.6" y1="182.82999999999998" x2="40.4" y2="182.82999999999998" stroke="#000" stroke-width="1.3" />
<text x="34.4" y="185.63" font-size="7.2" text-anchor="end" font-weight="bold" fill="#000">100</text>
<line x1="36.6" y1="169.196" x2="40.4" y2="169.196" stroke="#000" stroke-width="1.3" />
<text x="34.4" y="171.996" font-size="7.2" text-anchor="end" font-weight="bold" fill="#000">120</text>
<line x1="36.6" y1="251.0" x2="99.8" y2="251.0" stroke="#000" stroke-width="1.5" />
<line x1="100.0" y1="253.2" x2="103.0" y2="248.8" stroke="#000" stroke-width="1.3"/>
<line x1="104.19999999999999" y1="253.2" x2="107.19999999999999" y2="248.8" stroke="#000" stroke-width="1.3"/>
<line x1="106.6" y1="251.0" x2="172.8" y2="251.0" stroke="#000" stroke-width="1.5" />
<line x1="51.9" y1="251.0" x2="51.9" y2="248" stroke="#000" stroke-width="1.3" />
<text x="54.3" y="259.2" font-size="7.9" text-anchor="end" font-weight="bold" fill="#000" transform="rotate(-45 54.3 259.2)">50</text>
<line x1="67.6" y1="251.0" x2="67.6" y2="248" stroke="#000" stroke-width="1.3" />
<text x="70.0" y="259.2" font-size="7.9" text-anchor="end" font-weight="bold" fill="#000" transform="rotate(-45 70.0 259.2)">100</text>
<line x1="82.9" y1="251.0" x2="82.9" y2="248" stroke="#000" stroke-width="1.3" />
<text x="85.30000000000001" y="259.2" font-size="7.9" text-anchor="end" font-weight="bold" fill="#000" transform="rotate(-45 85.30000000000001 259.2)">150</text>
<line x1="98.2" y1="251.0" x2="98.2" y2="248" stroke="#000" stroke-width="1.3" />
<text x="100.60000000000001" y="259.2" font-size="7.9" text-anchor="end" font-weight="bold" fill="#000" transform="rotate(-45 100.60000000000001 259.2)">200</text>
<line x1="111.4" y1="251.0" x2="111.4" y2="248" stroke="#000" stroke-width="1.3" />
<text x="113.80000000000001" y="259.2" font-size="7.9" text-anchor="end" font-weight="bold" fill="#000" transform="rotate(-45 113.80000000000001 259.2)">400</text>
<line x1="127.2" y1="251.0" x2="127.2" y2="248" stroke="#000" stroke-width="1.3" />
<text x="129.6" y="259.2" font-size="7.9" text-anchor="end" font-weight="bold" fill="#000" transform="rotate(-45 129.6 259.2)">600</text>
<line x1="141.8" y1="251.0" x2="141.8" y2="248" stroke="#000" stroke-width="1.3" />
<text x="144.20000000000002" y="259.2" font-size="7.9" text-anchor="end" font-weight="bold" fill="#000" transform="rotate(-45 144.20000000000002 259.2)">800</text>
<line x1="156.9" y1="251.0" x2="156.9" y2="248" stroke="#000" stroke-width="1.3" />
<text x="159.3" y="259.2" font-size="7.9" text-anchor="end" font-weight="bold" fill="#000" transform="rotate(-45 159.3 259.2)">1000</text>
<line x1="172.2" y1="251.0" x2="172.2" y2="248" stroke="#000" stroke-width="1.3" />
<text x="174.6" y="259.2" font-size="7.9" text-anchor="end" font-weight="bold" fill="#000" transform="rotate(-45 174.6 259.2)">1200</text>
<line x1="38" y1="217.0" x2="174" y2="217.0" stroke="#444" stroke-width="0.8" stroke-dasharray="0.9 1.6"/>
<text x="14.3" y="212.5" font-size="8.4" text-anchor="middle" font-weight="bold" fill="#000" transform="rotate(-90 14.3 212.5)">BTYR indirect inhibition /%</text>
<text x="104.5" y="284.4" font-size="8.4" text-anchor="middle" font-weight="bold" fill="#000">Concentration/μM</text>
<polyline points="36.6,251.2 44.2,249.7 51.6,247.5 67.3,247.5 75.2,250.5 82.9,252.5 90.5,253.7 98.2,248.6" fill="none" stroke="#d6b4ee" stroke-width="1.0" stroke-linejoin="round"/>
<line x1="44.2" y1="247.7" x2="44.2" y2="251.7" stroke="#c9a0e4" stroke-width="0.8" />
<line x1="42.400000000000006" y1="247.7" x2="46.0" y2="247.7" stroke="#c9a0e4" stroke-width="0.8" />
<line x1="42.400000000000006" y1="251.7" x2="46.0" y2="251.7" stroke="#c9a0e4" stroke-width="0.8" />
<line x1="51.6" y1="244.5" x2="51.6" y2="250.5" stroke="#c9a0e4" stroke-width="0.8" />
<line x1="49.800000000000004" y1="244.5" x2="53.4" y2="244.5" stroke="#c9a0e4" stroke-width="0.8" />
<line x1="49.800000000000004" y1="250.5" x2="53.4" y2="250.5" stroke="#c9a0e4" stroke-width="0.8" />
<line x1="67.3" y1="244.5" x2="67.3" y2="250.5" stroke="#c9a0e4" stroke-width="0.8" />
<line x1="65.5" y1="244.5" x2="69.1" y2="244.5" stroke="#c9a0e4" stroke-width="0.8" />
<line x1="65.5" y1="250.5" x2="69.1" y2="250.5" stroke="#c9a0e4" stroke-width="0.8" />
<line x1="75.2" y1="248.5" x2="75.2" y2="252.5" stroke="#c9a0e4" stroke-width="0.8" />
<line x1="73.4" y1="248.5" x2="77.0" y2="248.5" stroke="#c9a0e4" stroke-width="0.8" />
<line x1="73.4" y1="252.5" x2="77.0" y2="252.5" stroke="#c9a0e4" stroke-width="0.8" />
<line x1="82.9" y1="250.5" x2="82.9" y2="254.5" stroke="#c9a0e4" stroke-width="0.8" />
<line x1="81.10000000000001" y1="250.5" x2="84.7" y2="250.5" stroke="#c9a0e4" stroke-width="0.8" />
<line x1="81.10000000000001" y1="254.5" x2="84.7" y2="254.5" stroke="#c9a0e4" stroke-width="0.8" />
<line x1="90.5" y1="251.7" x2="90.5" y2="255.7" stroke="#c9a0e4" stroke-width="0.8" />
<line x1="88.7" y1="251.7" x2="92.3" y2="251.7" stroke="#c9a0e4" stroke-width="0.8" />
<line x1="88.7" y1="255.7" x2="92.3" y2="255.7" stroke="#c9a0e4" stroke-width="0.8" />
<circle cx="36.6" cy="251.2" r="2.4" fill="#c9a0e4"/>
<circle cx="44.2" cy="249.7" r="2.4" fill="#c9a0e4"/>
<circle cx="51.6" cy="247.5" r="2.4" fill="#c9a0e4"/>
<circle cx="67.3" cy="247.5" r="2.4" fill="#c9a0e4"/>
<circle cx="75.2" cy="250.5" r="2.4" fill="#c9a0e4"/>
<circle cx="82.9" cy="252.5" r="2.4" fill="#c9a0e4"/>
<circle cx="90.5" cy="253.7" r="2.4" fill="#c9a0e4"/>
<circle cx="98.2" cy="248.6" r="2.4" fill="#c9a0e4"/>
<polyline points="36.6,251.2 44.2,245.6 51.6,245.2 67.3,245.2 75.2,247.8 82.9,249.5 90.5,249.9 98.2,236.7" fill="none" stroke="#c783c2" stroke-width="1.0" stroke-linejoin="round"/>
<line x1="44.2" y1="242.2" x2="44.2" y2="249.0" stroke="#b665b1" stroke-width="0.8" />
<line x1="42.400000000000006" y1="242.2" x2="46.0" y2="242.2" stroke="#b665b1" stroke-width="0.8" />
<line x1="42.400000000000006" y1="249.0" x2="46.0" y2="249.0" stroke="#b665b1" stroke-width="0.8" />
<line x1="51.6" y1="240.2" x2="51.6" y2="250.2" stroke="#b665b1" stroke-width="0.8" />
<line x1="49.800000000000004" y1="240.2" x2="53.4" y2="240.2" stroke="#b665b1" stroke-width="0.8" />
<line x1="49.800000000000004" y1="250.2" x2="53.4" y2="250.2" stroke="#b665b1" stroke-width="0.8" />
<line x1="67.3" y1="242.2" x2="67.3" y2="248.2" stroke="#b665b1" stroke-width="0.8" />
<line x1="65.5" y1="242.2" x2="69.1" y2="242.2" stroke="#b665b1" stroke-width="0.8" />
<line x1="65.5" y1="248.2" x2="69.1" y2="248.2" stroke="#b665b1" stroke-width="0.8" />
<line x1="75.2" y1="244.8" x2="75.2" y2="250.8" stroke="#b665b1" stroke-width="0.8" />
<line x1="73.4" y1="244.8" x2="77.0" y2="244.8" stroke="#b665b1" stroke-width="0.8" />
<line x1="73.4" y1="250.8" x2="77.0" y2="250.8" stroke="#b665b1" stroke-width="0.8" />
<line x1="82.9" y1="247.5" x2="82.9" y2="251.5" stroke="#b665b1" stroke-width="0.8" />
<line x1="81.10000000000001" y1="247.5" x2="84.7" y2="247.5" stroke="#b665b1" stroke-width="0.8" />
<line x1="81.10000000000001" y1="251.5" x2="84.7" y2="251.5" stroke="#b665b1" stroke-width="0.8" />
<line x1="90.5" y1="247.9" x2="90.5" y2="251.9" stroke="#b665b1" stroke-width="0.8" />
<line x1="88.7" y1="247.9" x2="92.3" y2="247.9" stroke="#b665b1" stroke-width="0.8" />
<line x1="88.7" y1="251.9" x2="92.3" y2="251.9" stroke="#b665b1" stroke-width="0.8" />
<line x1="98.2" y1="234.7" x2="98.2" y2="238.7" stroke="#b665b1" stroke-width="0.8" />
<line x1="96.4" y1="234.7" x2="100.0" y2="234.7" stroke="#b665b1" stroke-width="0.8" />
<line x1="96.4" y1="238.7" x2="100.0" y2="238.7" stroke="#b665b1" stroke-width="0.8" />
<rect x="34.4" y="249.0" width="4.4" height="4.4" rx="1.32" fill="#f0dcef" fill-opacity="0.45" stroke="#b665b1" stroke-width="0.9"/><circle cx="36.6" cy="251.2" r="1.2100000000000002" fill="none" stroke="#b665b1" stroke-width="0.5"/>
<rect x="42.0" y="243.4" width="4.4" height="4.4" rx="1.32" fill="#f0dcef" fill-opacity="0.45" stroke="#b665b1" stroke-width="0.9"/><circle cx="44.2" cy="245.6" r="1.2100000000000002" fill="none" stroke="#b665b1" stroke-width="0.5"/>
<rect x="49.4" y="243.0" width="4.4" height="4.4" rx="1.32" fill="#f0dcef" fill-opacity="0.45" stroke="#b665b1" stroke-width="0.9"/><circle cx="51.6" cy="245.2" r="1.2100000000000002" fill="none" stroke="#b665b1" stroke-width="0.5"/>
<rect x="65.1" y="243.0" width="4.4" height="4.4" rx="1.32" fill="#f0dcef" fill-opacity="0.45" stroke="#b665b1" stroke-width="0.9"/><circle cx="67.3" cy="245.2" r="1.2100000000000002" fill="none" stroke="#b665b1" stroke-width="0.5"/>
<rect x="73.0" y="245.60000000000002" width="4.4" height="4.4" rx="1.32" fill="#f0dcef" fill-opacity="0.45" stroke="#b665b1" stroke-width="0.9"/><circle cx="75.2" cy="247.8" r="1.2100000000000002" fill="none" stroke="#b665b1" stroke-width="0.5"/>
<rect x="80.7" y="247.3" width="4.4" height="4.4" rx="1.32" fill="#f0dcef" fill-opacity="0.45" stroke="#b665b1" stroke-width="0.9"/><circle cx="82.9" cy="249.5" r="1.2100000000000002" fill="none" stroke="#b665b1" stroke-width="0.5"/>
<rect x="88.3" y="247.70000000000002" width="4.4" height="4.4" rx="1.32" fill="#f0dcef" fill-opacity="0.45" stroke="#b665b1" stroke-width="0.9"/><circle cx="90.5" cy="249.9" r="1.2100000000000002" fill="none" stroke="#b665b1" stroke-width="0.5"/>
<rect x="96.0" y="234.5" width="4.4" height="4.4" rx="1.32" fill="#f0dcef" fill-opacity="0.45" stroke="#b665b1" stroke-width="0.9"/><circle cx="98.2" cy="236.7" r="1.2100000000000002" fill="none" stroke="#b665b1" stroke-width="0.5"/>
<polyline points="44.2,253.6 51.6,253.6 67.3,253.8 75.2,240.3 82.9,239.5 90.5,225.9 98.2,217" fill="none" stroke="#2c8c68" stroke-width="0.9" stroke-linejoin="round"/>
<line x1="67.3" y1="252.3" x2="67.3" y2="255.3" stroke="#2c8c68" stroke-width="0.8" />
<line x1="65.5" y1="252.3" x2="69.1" y2="252.3" stroke="#2c8c68" stroke-width="0.8" />
<line x1="65.5" y1="255.3" x2="69.1" y2="255.3" stroke="#2c8c68" stroke-width="0.8" />
<line x1="75.2" y1="238.3" x2="75.2" y2="242.3" stroke="#2c8c68" stroke-width="0.8" />
<line x1="73.4" y1="238.3" x2="77.0" y2="238.3" stroke="#2c8c68" stroke-width="0.8" />
<line x1="73.4" y1="242.3" x2="77.0" y2="242.3" stroke="#2c8c68" stroke-width="0.8" />
<line x1="98.2" y1="214" x2="98.2" y2="220" stroke="#2c8c68" stroke-width="0.8" />
<line x1="96.4" y1="214" x2="100.0" y2="214" stroke="#2c8c68" stroke-width="0.8" />
<line x1="96.4" y1="220" x2="100.0" y2="220" stroke="#2c8c68" stroke-width="0.8" />
<polygon points="44.2,251.7 42.300000000000004,255.025 46.1,255.025" fill="#9fd0bd" stroke="#2c8c68" stroke-width="0.9" stroke-linejoin="round"/>
<polygon points="51.6,251.7 49.7,255.025 53.5,255.025" fill="#9fd0bd" stroke="#2c8c68" stroke-width="0.9" stroke-linejoin="round"/>
<polygon points="67.3,251.9 65.39999999999999,255.22500000000002 69.2,255.22500000000002" fill="#9fd0bd" stroke="#2c8c68" stroke-width="0.9" stroke-linejoin="round"/>
<polygon points="75.2,238.4 73.3,241.72500000000002 77.10000000000001,241.72500000000002" fill="#9fd0bd" stroke="#2c8c68" stroke-width="0.9" stroke-linejoin="round"/>
<polygon points="82.9,237.6 81.0,240.925 84.80000000000001,240.925" fill="#9fd0bd" stroke="#2c8c68" stroke-width="0.9" stroke-linejoin="round"/>
<polygon points="90.5,224.0 88.6,227.32500000000002 92.4,227.32500000000002" fill="#9fd0bd" stroke="#2c8c68" stroke-width="0.9" stroke-linejoin="round"/>
<polygon points="98.2,215.1 96.3,218.425 100.10000000000001,218.425" fill="#9fd0bd" stroke="#2c8c68" stroke-width="0.9" stroke-linejoin="round"/>
<polyline points="111.4,250.2 126.7,242.5 142,236.1 157.3,232.3 172.6,228.5" fill="none" stroke="#d6b4ee" stroke-width="1.0" stroke-linejoin="round"/>
<line x1="157.3" y1="229.3" x2="157.3" y2="235.3" stroke="#c9a0e4" stroke-width="0.8" />
<line x1="155.5" y1="229.3" x2="159.10000000000002" y2="229.3" stroke="#c9a0e4" stroke-width="0.8" />
<line x1="155.5" y1="235.3" x2="159.10000000000002" y2="235.3" stroke="#c9a0e4" stroke-width="0.8" />
<line x1="172.6" y1="226.0" x2="172.6" y2="231.0" stroke="#c9a0e4" stroke-width="0.8" />
<line x1="170.79999999999998" y1="226.0" x2="174.4" y2="226.0" stroke="#c9a0e4" stroke-width="0.8" />
<line x1="170.79999999999998" y1="231.0" x2="174.4" y2="231.0" stroke="#c9a0e4" stroke-width="0.8" />
<circle cx="111.4" cy="250.2" r="2.3" fill="#c9a0e4"/>
<circle cx="126.7" cy="242.5" r="2.3" fill="#c9a0e4"/>
<circle cx="142" cy="236.1" r="2.3" fill="#c9a0e4"/>
<circle cx="157.3" cy="232.3" r="2.3" fill="#c9a0e4"/>
<circle cx="172.6" cy="228.5" r="2.3" fill="#c9a0e4"/>
<polyline points="111.4,223.4 126.7,211.9 142,211.9 157.3,199.1 172.6,192.2" fill="none" stroke="#c783c2" stroke-width="1.0" stroke-linejoin="round"/>
<line x1="142" y1="206.1" x2="142" y2="217.70000000000002" stroke="#b665b1" stroke-width="0.8" />
<line x1="140.2" y1="206.1" x2="143.8" y2="206.1" stroke="#b665b1" stroke-width="0.8" />
<line x1="140.2" y1="217.70000000000002" x2="143.8" y2="217.70000000000002" stroke="#b665b1" stroke-width="0.8" />
<line x1="172.6" y1="183.89999999999998" x2="172.6" y2="200.5" stroke="#b665b1" stroke-width="0.8" />
<line x1="170.79999999999998" y1="183.89999999999998" x2="174.4" y2="183.89999999999998" stroke="#b665b1" stroke-width="0.8" />
<line x1="170.79999999999998" y1="200.5" x2="174.4" y2="200.5" stroke="#b665b1" stroke-width="0.8" />
<rect x="109.2" y="221.20000000000002" width="4.4" height="4.4" rx="1.32" fill="#f0dcef" fill-opacity="0.45" stroke="#b665b1" stroke-width="0.9"/><circle cx="111.4" cy="223.4" r="1.2100000000000002" fill="none" stroke="#b665b1" stroke-width="0.5"/>
<rect x="124.5" y="209.70000000000002" width="4.4" height="4.4" rx="1.32" fill="#f0dcef" fill-opacity="0.45" stroke="#b665b1" stroke-width="0.9"/><circle cx="126.7" cy="211.9" r="1.2100000000000002" fill="none" stroke="#b665b1" stroke-width="0.5"/>
<rect x="139.8" y="209.70000000000002" width="4.4" height="4.4" rx="1.32" fill="#f0dcef" fill-opacity="0.45" stroke="#b665b1" stroke-width="0.9"/><circle cx="142" cy="211.9" r="1.2100000000000002" fill="none" stroke="#b665b1" stroke-width="0.5"/>
<rect x="155.10000000000002" y="196.9" width="4.4" height="4.4" rx="1.32" fill="#f0dcef" fill-opacity="0.45" stroke="#b665b1" stroke-width="0.9"/><circle cx="157.3" cy="199.1" r="1.2100000000000002" fill="none" stroke="#b665b1" stroke-width="0.5"/>
<rect x="170.4" y="190.0" width="4.4" height="4.4" rx="1.32" fill="#f0dcef" fill-opacity="0.45" stroke="#b665b1" stroke-width="0.9"/><circle cx="172.6" cy="192.2" r="1.2100000000000002" fill="none" stroke="#b665b1" stroke-width="0.5"/>
<line x1="219.7" y1="164.4" x2="219.7" y2="258.40000000000003" stroke="#000" stroke-width="1.5" />
<line x1="216.2" y1="165.0" x2="219.7" y2="165.0" stroke="#000" stroke-width="1.3" />
<text x="216.5" y="167.6" font-size="7.2" text-anchor="end" font-weight="bold" fill="#000">100</text>
<line x1="216.2" y1="188.2" x2="219.7" y2="188.2" stroke="#000" stroke-width="1.3" />
<text x="216.5" y="190.79999999999998" font-size="7.2" text-anchor="end" font-weight="bold" fill="#000">50</text>
<line x1="216.2" y1="211.4" x2="219.7" y2="211.4" stroke="#000" stroke-width="1.3" />
<text x="216.5" y="214.0" font-size="7.2" text-anchor="end" font-weight="bold" fill="#000">0</text>
<line x1="216.2" y1="234.60000000000002" x2="219.7" y2="234.60000000000002" stroke="#000" stroke-width="1.3" />
<text x="216.5" y="237.20000000000002" font-size="7.2" text-anchor="end" font-weight="bold" fill="#000">−50</text>
<line x1="216.2" y1="257.8" x2="219.7" y2="257.8" stroke="#000" stroke-width="1.3" />
<text x="216.5" y="260.40000000000003" font-size="7.2" text-anchor="end" font-weight="bold" fill="#000">−100</text>
<rect x="262.4" y="211.4" width="21.6" height="32.6" fill="#c9a6e2" stroke="#8a6a9a" stroke-width="0.5"/>
<rect x="294.5" y="174.2" width="21.6" height="37.2" fill="#953c8b" stroke="#5a1f55" stroke-width="0.5"/>
<rect x="326.8" y="211.4" width="21.2" height="3.2" fill="#2e8b68"/>
<line x1="219.7" y1="211.2" x2="358.8" y2="211.2" stroke="#000" stroke-width="1.5" />
<line x1="219.0" y1="257.4" x2="359.4" y2="257.4" stroke="#000" stroke-width="1.5" />
<line x1="240" y1="257.4" x2="240" y2="254.8" stroke="#000" stroke-width="1.2" />
<line x1="272.6" y1="257.4" x2="272.6" y2="254.8" stroke="#000" stroke-width="1.2" />
<line x1="304.9" y1="257.4" x2="304.9" y2="254.8" stroke="#000" stroke-width="1.2" />
<line x1="337.1" y1="257.4" x2="337.1" y2="254.8" stroke="#000" stroke-width="1.2" />
<line x1="235" y1="212.1" x2="244.8" y2="212.1" stroke="#555" stroke-width="0.8" />
<line x1="267.4" y1="245.8" x2="278.4" y2="245.8" stroke="#555" stroke-width="0.8" />
<line x1="272.9" y1="244" x2="272.9" y2="245.8" stroke="#555" stroke-width="0.8" />
<line x1="300" y1="174.2" x2="310.5" y2="174.2" stroke="#555" stroke-width="0.8" />
<line x1="332" y1="218.3" x2="342.7" y2="218.3" stroke="#555" stroke-width="0.8" />
<line x1="337.3" y1="214.6" x2="337.3" y2="218.3" stroke="#555" stroke-width="0.8" />
<text x="240" y="208.6" font-size="10.2" text-anchor="middle" font-weight="normal" fill="#000">b</text>
<text x="304.8" y="170.4" font-size="10.4" text-anchor="middle" font-weight="normal" fill="#000">a</text>
<text x="337.3" y="208.8" font-size="10.2" text-anchor="middle" font-weight="normal" fill="#000">b</text>
<text x="272.9" y="251.8" font-size="10.2" text-anchor="middle" font-weight="normal" fill="#000">c</text>
<text x="242" y="265.2" font-size="8.0" text-anchor="end" font-weight="bold" fill="#000" transform="rotate(-45 242 265.2)">Water</text>
<text x="275.5" y="265.2" font-size="8.0" text-anchor="end" font-weight="bold" fill="#000" transform="rotate(-45 275.5 265.2)">Kojic acid</text>
<text x="309" y="265.2" font-size="8.0" text-anchor="end" font-weight="bold" fill="#000" transform="rotate(-45 309 265.2)">β-arbutin</text>
<text x="340" y="265.2" font-size="8.0" text-anchor="end" font-weight="bold" fill="#000" transform="rotate(-45 340 265.2)">EGCG</text>
<text x="197.8" y="210" font-size="8.3" text-anchor="middle" font-weight="bold" fill="#000" transform="rotate(-90 197.8 210)">ATYR indirect inhibition/%</text>
<line x1="397.0" y1="192.4" x2="408.8" y2="192.4" stroke="#c9a0e4" stroke-width="1.1" />
<circle cx="402.8" cy="192.4" r="2.0" fill="#c9a0e4"/>
<text x="414.0" y="195.8" font-size="13.0" text-anchor="start" font-weight="normal" fill="#000">Kojic acid</text>
<line x1="397.0" y1="211.4" x2="408.8" y2="211.4" stroke="#a9519f" stroke-width="1.1" />
<rect x="400.2" y="208.8" width="5.2" height="5.2" rx="1.56" fill="#f0dcef" fill-opacity="0.45" stroke="#a9519f" stroke-width="0.9"/><circle cx="402.8" cy="211.4" r="1.4300000000000002" fill="none" stroke="#a9519f" stroke-width="0.5"/>
<text x="414.0" y="215.4" font-size="13.0" text-anchor="start" font-weight="normal" fill="#000">β-arbutin</text>
<line x1="397.0" y1="230.5" x2="408.8" y2="230.5" stroke="#2c8c68" stroke-width="1.1" />
<polygon points="402.8,227.9 400.1,232.625 405.5,232.625" fill="#9fd0bd" stroke="#2c8c68" stroke-width="1.3" stroke-linejoin="round"/>
<text x="414.0" y="234.8" font-size="13.0" text-anchor="start" font-weight="normal" fill="#000">EGCG</text>
</svg>
</body></html>
